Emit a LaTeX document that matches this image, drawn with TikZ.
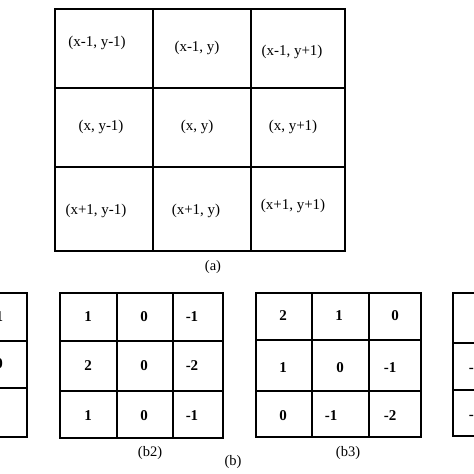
\documentclass[tikz,border=0pt]{standalone}
\usepackage{fontspec}
\setmainfont{Liberation Serif}
\begin{document}
\begin{tikzpicture}[x=1pt,y=-1pt,
  gridline/.style={line width=1.8pt,line cap=rect},
  coordlbl/.style={font=\fontsize{15}{16}\selectfont,inner sep=0pt},
  kval/.style={font=\fontsize{15}{16}\selectfont\bfseries,inner sep=0pt},
  caption/.style={font=\fontsize{14.5}{16}\selectfont,inner sep=0pt}]
\useasboundingbox (0,0) rectangle (474,474);
\clip (0,0) rectangle (474,474);
% (a)
\draw[gridline] (55,9) rectangle (345,251);
\draw[gridline] (153,9) -- (153,251) (251,9) -- (251,251)
  (55,88) -- (345,88) (55,167) -- (345,167);
\node[coordlbl] (a11) at (97,43) {(x-1, y-1)};
\node[coordlbl] (a12) at (197,48) {(x-1, y)};
\node[coordlbl] (a13) at (292,52) {(x-1, y+1)};
\node[coordlbl] (a21) at (101,127) {(x, y-1)};
\node[coordlbl] (a22) at (197,127) {(x, y)};
\node[coordlbl] (a23) at (293,127) {(x, y+1)};
\node[coordlbl] (a31) at (96,211) {(x+1, y-1)};
\node[coordlbl] (a32) at (196,211) {(x+1, y)};
\node[coordlbl] (a33) at (293,206) {(x+1, y+1)};
\node[caption] (capa) at (213,267) {(a)};
% (b1) partial
\draw[gridline] (-140,293) rectangle (27,437);
\draw[gridline] (-84,293) -- (-84,437) (-28,293) -- (-28,437)
  (-140,341) -- (27,341) (-140,388) -- (27,388);
\node[kval] (b1a) at (-3,317) {-1};
\node[kval] (b1b) at (-1,364) {0};
\node[kval] (b1c) at (-3,414) {1};
% (b2)
\draw[gridline] (60,293) rectangle (223,438);
\draw[gridline] (117,293) -- (117,438) (173,293) -- (173,438)
  (60,341) -- (223,341) (60,391) -- (223,391);
\node[kval] (b2a) at (88,317) {1};
\node[kval] (b2b) at (144,317) {0};
\node[kval] (b2c) at (192,317) {-1};
\node[kval] (b2d) at (88,366) {2};
\node[kval] (b2e) at (144,366) {0};
\node[kval] (b2f) at (192,366) {-2};
\node[kval] (b2g) at (88,416) {1};
\node[kval] (b2h) at (144,416) {0};
\node[kval] (b2i) at (192,416) {-1};
\node[caption] (capb2) at (150,453) {(b2)};
\node[caption] (capb) at (233,462) {(b)};
% (b3)
\draw[gridline] (256,293) rectangle (421,437);
\draw[gridline] (312,293) -- (312,437) (369,293) -- (369,437)
  (256,340) -- (421,340) (256,391) -- (421,391);
\node[kval] (b3a) at (283,316) {2};
\node[kval] (b3b) at (339,316) {1};
\node[kval] (b3c) at (395,316) {0};
\node[kval] (b3d) at (283,368) {1};
\node[kval] (b3e) at (340,368) {0};
\node[kval] (b3f) at (390,368) {-1};
\node[kval] (b3g) at (283,416) {0};
\node[kval] (b3h) at (331,416) {-1};
\node[kval] (b3i) at (390,416) {-2};
\node[caption] (capb3) at (348,453) {(b3)};
% (b4) partial
\draw[gridline] (453,293) rectangle (621,436);
\draw[gridline] (509,293) -- (509,436) (565,293) -- (565,436)
  (453,343) -- (621,343) (453,390) -- (621,390);
\node[kval] (b4a) at (481,317) {0};
\node[kval] (b4b) at (475,368) {-1};
\node[kval] (b4c) at (475,415) {-2};
\end{tikzpicture}
\end{document}
